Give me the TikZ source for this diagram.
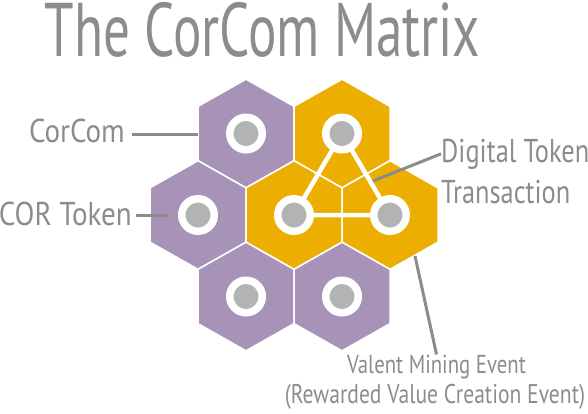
\documentclass[tikz,border=0pt]{standalone}
\usepackage{fontspec}
\setmainfont[FakeStretch=0.8]{PT Sans}
\newfontfamily\titlefont[FakeStretch=0.7]{PT Sans}
\newfontfamily\sidefont[FakeStretch=0.88]{PT Sans}
\usepackage{xcolor}
\usepackage{tikz}
\usetikzlibrary{calc}
\definecolor{corpurple}{RGB}{168,147,184}
\definecolor{corgold}{RGB}{236,174,0}
\definecolor{dotgray}{RGB}{179,179,179}
\definecolor{txtgray}{RGB}{140,140,140}

\begin{document}
\begin{tikzpicture}[x=1pt, y=-1pt,
    dot/.style = {circle, fill=dotgray, draw=white, line width=7.5pt, minimum size=32.5pt, inner sep=0pt},
    lbl/.style = {text=txtgray, inner sep=0pt, font=\fontsize{33}{36}\selectfont},
    leader/.style = {draw=txtgray, line width=3pt}]
  \useasboundingbox (0,0) rectangle (588,413);
  % cell centres
  \coordinate (tl) at (246,133.5);
  \coordinate (tr) at (342,133.5);
  \coordinate (ml) at (198,215);
  \coordinate (mm) at (294,215);
  \coordinate (mr) at (390,215);
  \coordinate (bl) at (246,296.5);
  \coordinate (br) at (342,296.5);
  \foreach \c/\col in {tl/corpurple, tr/corgold, ml/corpurple, mm/corgold, mr/corgold, bl/corpurple, br/corpurple}
    \fill[\col, draw=white, line width=1.5pt] (\c) ++(0,-54.3) -- ++(48,27.15) -- ++(0,54.3)
      -- ++(-48,27.15) -- ++(-48,-27.15) -- ++(0,-54.3) -- cycle;
  % transaction triangle
  \draw[white, line width=4.5pt, line join=round] (tr) -- (mm) -- (mr) -- cycle;
  \foreach \c in {tl,tr,ml,mm,mr,bl,br}
    \node[dot] (d\c) at (\c) {};

  \node[text=txtgray, inner sep=0pt, anchor=base, font=\titlefont\fontsize{76}{80}\selectfont] (title) at (262.5,56) {The CorCom Matrix};
  \node[lbl, anchor=base east, font=\sidefont\fontsize{33}{36}\selectfont] (corcom) at (125,142) {CorCom};
  \node[lbl, anchor=base east, font=\sidefont\fontsize{33}{36}\selectfont] (cortok) at (132,225) {COR Token};
  \node[lbl, anchor=base west] (digtok) at (441,162) {Digital Token};
  \node[lbl, anchor=base west] (trans) at (441,203) {Transaction};
  \node[lbl, anchor=base, font=\fontsize{26}{28}\selectfont] (valent) at (436.5,373) {Valent Mining Event};
  \node[lbl, anchor=base, font=\fontsize{27}{30}\selectfont] (reward) at (435,403) {(Rewarded Value Creation Event)};

  \coordinate (tlw) at ($(tl)+(-48,1)$);
  \coordinate (txend) at (373,181);
  \coordinate (mrse) at (415,256);
  \draw[leader, shorten <=7pt] (tlw -| corcom.east) -- (tlw);
  \draw[leader, shorten <=4pt, shorten >=10pt] (cortok.east |- dml) -- (dml);
  \draw[leader] (digtok.west) -- (txend);
  \draw[leader] (mrse) -- (valent.north);
\end{tikzpicture}
\end{document}
